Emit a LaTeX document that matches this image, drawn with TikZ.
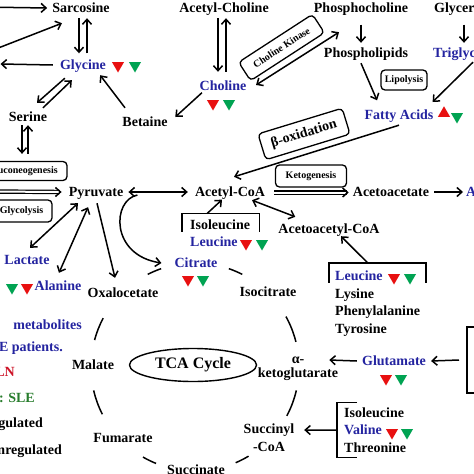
\documentclass[tikz,border=0pt]{standalone}
\usepackage{fontspec}
\setmainfont{Liberation Serif}
\usetikzlibrary{arrows.meta,shapes.geometric,calc}
\definecolor{metblue}{RGB}{36,36,160}
\definecolor{trired}{RGB}{232,16,16}
\definecolor{trigreen}{RGB}{0,163,82}
\definecolor{legred}{RGB}{205,20,40}
\definecolor{leggreen}{RGB}{40,125,45}

\begin{document}
\begin{tikzpicture}[
  x=1pt, y=-1pt,
  font=\fontsize{14}{17.5}\selectfont\bfseries,
  met/.style={inner sep=1pt, text height=9.5pt, text depth=1.5pt},
  hit/.style={met, text=metblue},
  grp/.style={inner sep=1pt, align=left},
  proc/.style={
    draw,
    rounded corners=4pt,
    line width=1.3pt,
    inner sep=2pt,
    font=\fontsize{10}{12}\selectfont\bfseries
  },
  arr/.style={line width=1.5pt, -{Straight Barb[length=5pt,width=9pt]}},
  biarr/.style={line width=1.5pt, {Straight Barb[length=5pt,width=9pt]}-{Straight Barb[length=5pt,width=9pt]}},
  twin/.style={line width=1.2pt, double distance=2pt},
  brk/.style={line width=1.5pt},
  cyc/.style={line width=1.5pt},
  dntri/.style={regular polygon, regular polygon sides=3, shape border rotate=180,
    fill=#1, inner sep=0pt, minimum size=14pt},
  uptri/.style={regular polygon, regular polygon sides=3,
    fill=#1, inner sep=0pt, minimum size=14pt}
]

\fill[white] (0,0) rectangle (474,474);
\useasboundingbox (0,0) rectangle (474,474);

\node[met] (sar) at (81,8) {Sarcosine};
\node[met] (ach) at (224,8) {Acetyl-Choline};
\node[met] (pch) at (361,8) {Phosphocholine};
\node[met, anchor=west] (glyc) at (433,8) {Glycerol};
\node[hit] (gly) at (83,65) {Glycine};
\node[hit] (cho) at (223,86) {Choline};
\node[met] (plip) at (366,53) {Phospholipids};
\node[hit, anchor=west] (tg) at (432,53) {Triglycerides};
\node[met] (ser) at (28,117) {Serine};
\node[met] (bet) at (145,122) {Betaine};
\node[hit] (fa) at (399,115) {Fatty Acids};

\node[met] (pyr) at (96,192) {Pyruvate};
\node[met] (acoa) at (230,192) {Acetyl-CoA};
\node[met] (aca) at (391,192) {Acetoacetate};
\node[hit, anchor=west] (acet) at (465,192) {Acetone};
\node[met] (aacoa) at (329,229) {Acetoacetyl-CoA};
\node[grp, anchor=west] (ilgrp) at (189,233.4) {Isoleucine\\\textcolor{metblue}{Leucine}};
\node[hit] (lac) at (27,260) {Lactate};
\node[hit] (ala) at (58,286) {Alanine};

\node[met] (oaa) at (123,293) {Oxalocetate};
\node[hit] (cit) at (196,263) {Citrate};
\node[met] (icit) at (268,292) {Isocitrate};
\node[grp, align=center, font=\fontsize{14}{14}\selectfont\bfseries] (akg) at (298,368.3) {α-\\ketoglutarate};
\node[grp, align=center] (scoa) at (269,437.6) {Succinyl\\-CoA};
\node[met] (suc) at (196,470) {Succinate};
\node[met] (fum) at (123,438) {Fumarate};
\node[met] (mal) at (93,365) {Malate};
\node[draw, ellipse, line width=1.4pt, minimum width=127pt, minimum height=33pt, inner sep=0pt,
  font=\fontsize{16}{18}\selectfont\bfseries] (tca) at (193,365) {TCA Cycle};

\node[hit] (glu) at (394,361) {Glutamate};
\node[grp, anchor=west] (aagrp) at (334,303.6) {\textcolor{metblue}{Leucine}\\Lysine\\Phenylalanine\\Tyrosine};
\node[grp, anchor=west] (bcgrp) at (343,430.2) {Isoleucine\\\textcolor{metblue}{Valine}\\Threonine};

\node[proc, rotate=33, minimum width=88pt, minimum height=22pt] (ck) at (281.5,47.5) {Choline Kinase};
\node[proc, minimum width=46pt, minimum height=20pt] (lipo) at (404,80) {Lipolysis};
\node[proc, rotate=17, minimum width=88pt, minimum height=27pt,
  font=\fontsize{14}{16}\selectfont\bfseries] (box) at (304,134) {β-oxidation};
\node[proc, minimum width=71pt, minimum height=22pt] (keto) at (311,176) {Ketogenesis};
\node[proc, minimum width=89pt, minimum height=19pt] (glng) at (22.5,171) {Gluconeogenesis};
\node[proc, minimum width=61pt, minimum height=22pt] (glys) at (21.5,211) {Glycolysis};

\node[dntri=trired] (glyR) at (118,65.5) {};
\node[dntri=trigreen] (glyG) at (135,65.5) {};
\node[dntri=trired] (choR) at (213,103.5) {};
\node[dntri=trigreen] (choG) at (229,103.5) {};
\node[uptri=trired] (faR) at (444,113.3) {};
\node[dntri=trigreen] (faG) at (457,116.5) {};
\node[dntri=trired] (citR) at (188,279.5) {};
\node[dntri=trigreen] (citG) at (203,279.5) {};
\node[dntri=trired] (leuR) at (246,243.5) {};
\node[dntri=trigreen] (leuG) at (262,243.5) {};
\node[dntri=trigreen] (alaG) at (12,287.5) {};
\node[dntri=trired] (alaR) at (27,287.5) {};
\node[dntri=trired] (aaR) at (394,277.5) {};
\node[dntri=trigreen] (aaG) at (410,277.5) {};
\node[dntri=trired] (gluR) at (386,378.5) {};
\node[dntri=trigreen] (gluG) at (401,378.5) {};
\node[dntri=trired] (valR) at (392,432.5) {};
\node[dntri=trigreen] (valG) at (407,432.5) {};

\node[met, anchor=east, text=metblue] (leg1) at (83,325) {metabolites};
\node[met, anchor=east, text=metblue] (leg2) at (64,347) {SLE patients.};
\node[met, anchor=east, text=legred] (leg3) at (16,372) {LN};
\node[met, anchor=east, text=leggreen] (leg4) at (36,398) {Green: SLE};
\node[met, anchor=east] (leg5) at (44,423) {Upregulated};
\node[met, anchor=east] (leg6) at (63,450) {Downregulated};

\coordinate (in1) at (-20,7);
\coordinate (in2) at (-12,52);
\coordinate (out1) at (0.5,64);
\coordinate (glin) at (-10,191.5);
\coordinate (rbrk) at (467,360);
\coordinate (tcac) at (195,367);

\draw[arr] (in1) -- ([xshift=-4pt]sar.west);
\draw[arr] (in2) -- ([xshift=-19pt,yshift=-8.5pt]sar.south);
\draw[arr] ([xshift=-6pt]gly.west) -- (out1);
\draw[arr] ([xshift=-2pt,yshift=-3.5pt]sar.south) -- ([xshift=-4pt,yshift=5pt]gly.north);
\draw[arr] ([xshift=4pt,yshift=5pt]gly.north) -- ([xshift=6pt,yshift=-3.5pt]sar.south);
\draw[arr] ([xshift=6pt,yshift=-6.5pt]gly.south west) -- ([xshift=9pt,yshift=7.5pt]ser.north);
\draw[arr] ([xshift=15pt,yshift=2.5pt]ser.north) -- ([xshift=13pt,yshift=-8.5pt]gly.south west);
\draw[arr] ([xshift=-20pt,yshift=7.5pt]bet.north) -- ([xshift=-7pt,yshift=-3.5pt]gly.south east);
\draw[arr] ([xshift=-6pt,yshift=-1.5pt]ser.south) -- ([xshift=-0.5pt,yshift=7pt]glng.north);
\draw[arr] ([xshift=5.5pt,yshift=7pt]glng.north) -- ([yshift=-1.5pt]ser.south);

\draw[arr] ([xshift=-6pt,yshift=-3.5pt]ach.south) -- ([xshift=-5pt,yshift=7.5pt]cho.north);
\draw[arr] ([xshift=3pt,yshift=7.5pt]cho.north) -- ([xshift=2pt,yshift=-3.5pt]ach.south);
\draw[arr] ([xshift=3.5pt]cho.south west) -- ([xshift=6.5pt,yshift=5pt]bet.east);
\draw[biarr] ([xshift=8.5pt,yshift=1pt]cho.east) -- ([xshift=-22pt,yshift=-17.5pt]pch.south);
\draw[arr] ([yshift=-10pt]pch.south) -- ([xshift=-5pt,yshift=3.5pt]plip.north);
\draw[arr] ([xshift=31pt,yshift=-10pt]glyc.south west) -- ([xshift=32pt,yshift=3.5pt]tg.north west);
\draw[arr] ([xshift=41pt,yshift=-2.5pt]tg.south west) -- ([xshift=-2pt,yshift=13pt]fa.east);
\draw[arr] ([xshift=-5pt,yshift=-3.5pt]plip.south) -- ([xshift=-22pt,yshift=8pt]fa.north);
\draw[arr] ([yshift=-3.5pt]fa.south) -- ([xshift=4pt,yshift=8.5pt]acoa.north);

\draw[twin, shorten >=2pt] (glin) -- ([xshift=-6pt]pyr.west);
\draw[arr] ([xshift=-7pt]pyr.west) -- ([xshift=-6pt]pyr.west);
\draw[biarr] ([xshift=4pt]pyr.east) -- ([xshift=-6pt]acoa.west);
\draw[arr] ([xshift=13pt,yshift=-3pt]pyr.east) .. controls (112,200) and (110,255) .. ([xshift=-12pt]cit.west);
\draw[biarr] ([xshift=-18pt,yshift=-4.5pt]pyr.south) -- ([xshift=3pt,yshift=5.5pt]lac.north);
\draw[biarr] ([xshift=-8pt,yshift=-8.5pt]pyr.south) -- ([xshift=1pt,yshift=6.5pt]ala.north);
\draw[arr] ([xshift=1pt,yshift=-4.5pt]pyr.south) -- ([xshift=-8pt,yshift=8.5pt]oaa.north);

\draw[biarr] ([xshift=22pt,yshift=-1.5pt]acoa.south) -- ([xshift=18pt,yshift=5.5pt]aacoa.north west);
\draw[twin, shorten >=2pt] ([xshift=8pt,yshift=-0.5pt]acoa.east) -- ([xshift=-3pt,yshift=-0.5pt]aca.west);
\draw[arr] ([xshift=-4pt,yshift=-0.5pt]aca.west) -- ([xshift=-3pt,yshift=-0.5pt]aca.west);
\draw[arr] ([xshift=4pt]aca.east) -- ([xshift=-2pt]acet.west);

\draw[brk] ([xshift=-7pt,yshift=-13pt]ilgrp.north west) |- ([yshift=5pt]ilgrp.north) -| ([xshift=8pt,yshift=-13pt]ilgrp.north east);
\draw[arr] ([xshift=-13pt,yshift=5pt]ilgrp.north) -- ([xshift=-8pt,yshift=-1pt]acoa.south);

\draw[brk] ([xshift=-5pt,yshift=-13pt]aagrp.north west) |- ([yshift=7pt]aagrp.north) -| ([xshift=5pt,yshift=-13pt]aagrp.north east);
\draw[arr] ([xshift=-10pt,yshift=7pt]aagrp.north) -- ([xshift=12pt,yshift=-0.5pt]aacoa.south);

\draw[brk] ([xshift=14pt,yshift=4pt]bcgrp.north west) -| ([xshift=-6pt]bcgrp.west) |- ([xshift=14pt,yshift=-3.5pt]bcgrp.south west);
\draw[arr] ([xshift=-6pt]bcgrp.west) -- ([xshift=8.7pt,yshift=7.6pt]scoa.east);

\draw[brk] (480,327) -| (rbrk) |- (480,393);
\draw[arr] ([xshift=-8pt]rbrk) -- ([xshift=4pt]glu.east);
\draw[arr] ([xshift=-4pt]glu.west) -- ([xshift=-10pt,yshift=8.3pt]akg.east);

\foreach \a/\b in {195/208, 243/251, 289/297, 331/346, 13/28, 59/67, 112/120, 153/167}
  \draw[cyc] ($(tcac)+(\a:104)$) arc[start angle=\a, end angle=\b, radius=104];

\end{tikzpicture}
\end{document}
